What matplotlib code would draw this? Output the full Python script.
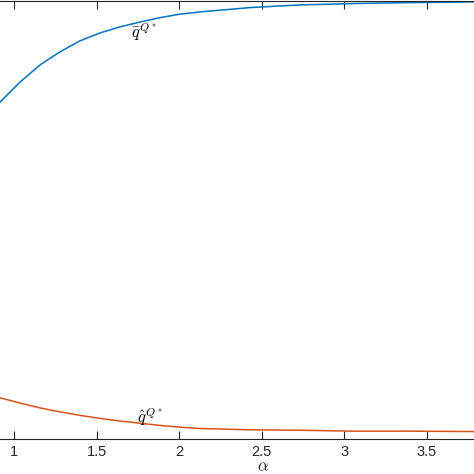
import matplotlib
matplotlib.use('Agg')
import matplotlib.pyplot as plt

plt.rcParams['font.family'] = ['Liberation Sans', 'DejaVu Sans']
plt.rcParams['mathtext.fontset'] = 'cm'

# values
alpha = [0.90, 0.913, 1.035, 1.156, 1.277, 1.398, 1.519, 1.641, 1.762, 1.883,
         2.004, 2.125, 2.428, 2.731, 3.034, 3.337, 3.786, 3.90]
q_bar = [0.765, 0.769, 0.815, 0.854, 0.884, 0.909, 0.927, 0.941, 0.952, 0.962,
         0.970, 0.975, 0.985, 0.991, 0.994, 0.996, 0.998, 0.998]
q_hat = [0.097, 0.094, 0.082, 0.071, 0.062, 0.054, 0.047, 0.041, 0.036, 0.031,
         0.027, 0.024, 0.021, 0.020, 0.018, 0.018, 0.017, 0.017]
xticks = [1, 1.5, 2, 2.5, 3, 3.5]

fig = plt.figure(figsize=(4.74, 4.74), dpi=100)
ax = fig.add_axes([0, 35 / 474, 1, 438 / 474])

ax.plot(alpha, q_bar, color='#0072BD', lw=1.1)
ax.plot(alpha, q_hat, color='#D95319', lw=1.1)

ax.text(1.707, 0.915, r'$\bar{q}^{Q^*}$', fontsize=12, va='baseline')
ax.text(1.744, 0.037, r'$\hat{q}^{Q^*}$', fontsize=12, va='baseline')

ax.set_xlim(1 - 14.3 / 165, 1 + (474 - 14.3) / 165)
ax.set_ylim(0, 1)
ax.set_xticks(xticks)
ax.set_xticklabels(['1', '1.5', '2', '2.5', '3', '3.5'])
ax.set_yticks([])
ax.tick_params(axis='x', direction='in', length=5.8, width=0.8,
               color='#262626', labelcolor='#262626', labelsize=10.5,
               pad=4.5, top=True)
for side in ['left', 'right']:
    ax.spines[side].set_visible(False)
for side in ['top', 'bottom']:
    ax.spines[side].set_color('#262626')
    ax.spines[side].set_linewidth(0.8)

ax.set_xlabel(r'$\alpha$', fontsize=12, color='#262626')
ax.xaxis.label.set_va('bottom')
ax.xaxis.set_label_coords(263 / 474, -35.5 / 438)

fig.savefig('out.png', dpi=100)
